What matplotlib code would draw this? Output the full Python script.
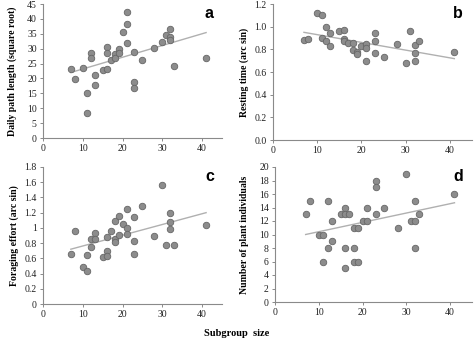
import matplotlib
matplotlib.use("Agg")
import matplotlib.pyplot as plt

# ---- data ----
a_x = [7, 8, 10, 11, 11, 12, 12, 13, 13, 15, 16, 16, 16, 17, 18, 18, 19, 19, 20, 21, 21, 21,
       23, 23, 23, 25, 28, 30, 31, 32, 32, 32, 33, 41]
a_y = [23.1, 19.7, 23.5, 15.0, 8.4, 28.7, 26.8, 21.2, 17.7, 22.8, 30.4, 28.5, 23.2, 26.2, 28.1,
       26.8, 29.8, 28.7, 35.7, 42.3, 38.4, 32.0, 29.0, 18.7, 16.7, 26.2, 30.1, 32.1, 34.6, 36.5,
       34.0, 32.9, 24.2, 26.8]
a_trend_x = [7, 41]
a_trend_y = [22.0, 35.4]

b_x = [7, 8, 10, 11, 11, 12, 12, 13, 13, 15, 16, 16, 16, 17, 18, 18, 19, 19, 20, 21, 21, 21,
       23, 23, 23, 25, 28, 30, 31, 32, 32, 32, 33, 41]
b_y = [0.885, 0.89, 1.12, 1.10, 0.90, 1.00, 0.876, 0.94, 0.83, 0.96, 0.975, 0.89, 0.875, 0.86,
       0.86, 0.795, 0.78, 0.755, 0.83, 0.845, 0.81, 0.70, 0.945, 0.876, 0.765, 0.73, 0.85, 0.675,
       0.96, 0.84, 0.77, 0.697, 0.875, 0.78]
b_trend_x = [7, 41]
b_trend_y = [0.95, 0.718]

c_x = [7, 8, 10, 11, 11, 12, 12, 13, 13, 15, 16, 16, 16, 17, 18, 18, 18, 19, 19, 20, 21, 21, 21,
       23, 23, 23, 25, 28, 30, 31, 32, 32, 32, 33, 41]
c_y = [0.66, 0.965, 0.49, 0.64, 0.435, 0.85, 0.746, 0.93, 0.85, 0.615, 0.885, 0.69, 0.637, 0.965,
       1.09, 0.86, 0.81, 1.15, 0.905, 1.05, 1.25, 1.0, 0.92, 1.14, 0.825, 0.654, 1.29, 0.89, 1.57,
       0.78, 1.19, 1.08, 0.98, 0.77, 1.035]
c_trend_x = [7, 41]
c_trend_y = [0.72, 1.2]

d_x = [7, 8, 10, 11, 11, 12, 12, 13, 13, 15, 16, 16, 16, 16, 17, 18, 18, 18, 19, 19, 20, 21, 21,
       23, 23, 23, 25, 28, 30, 31, 32, 32, 32, 33, 41]
d_y = [13, 15, 10, 10, 6, 15, 8, 12, 9, 13, 14, 13, 8, 5, 13, 11, 8, 6, 11, 6, 12, 12, 14,
       18, 17, 13, 14, 11, 19, 12, 15, 12, 8, 13, 16]
d_trend_x = [7, 41]
d_trend_y = [10.0, 14.7]

panels = [
    dict(x=a_x, y=a_y, tx=a_trend_x, ty=a_trend_y, letter="a", pad=7,
         ylabel="Daily path length (square root)", ylim=(0, 45), yticks=[0, 5, 10, 15, 20, 25, 30, 35, 40, 45],
         fmt="{:g}", rect=[43/474, 1-138/345, 179/474, 134/345]),
    dict(x=b_x, y=b_y, tx=b_trend_x, ty=b_trend_y, letter="b", pad=4,
         ylabel="Resting time (arc sin)", ylim=(0, 1.2), yticks=[0, 0.2, 0.4, 0.6, 0.8, 1.0, 1.2],
         fmt="{:.1f}", rect=[273/474, 1-140/345, 199/474, 136/345]),
    dict(x=c_x, y=c_y, tx=c_trend_x, ty=c_trend_y, letter="c", pad=4,
         ylabel="Foraging effort (arc sin)", ylim=(0, 1.8), yticks=[0, 0.2, 0.4, 0.6, 0.8, 1, 1.2, 1.4, 1.6, 1.8],
         fmt="{:g}", rect=[43/474, 1-304/345, 179/474, 137/345]),
    dict(x=d_x, y=d_y, tx=d_trend_x, ty=d_trend_y, letter="d", pad=7,
         ylabel="Number of plant individuals", ylim=(0, 20), yticks=[0, 2, 4, 6, 8, 10, 12, 14, 16, 18, 20],
         fmt="{:g}", rect=[275/474, 1-302/345, 197/474, 135/345]),
]

fig = plt.figure(figsize=(4.74, 3.45), dpi=100)
serif = "Liberation Serif"
axis_col = "#8a8a8a"

for p in panels:
    ax = fig.add_axes(p["rect"])
    ax.plot(p["tx"], p["ty"], color="#b0b0b0", lw=1.0, zorder=2)
    ax.scatter(p["x"], p["y"], s=22, c="#8c8c8c", edgecolors="#666666", linewidths=0.6, zorder=3)
    ax.set_xlim(0, 45)
    ax.set_ylim(*p["ylim"])
    ax.set_xticks([0, 10, 20, 30, 40])
    ax.set_xticklabels(["0", "10", "20", "30", "40"], fontfamily=serif, fontsize=7)
    ax.set_yticks(p["yticks"])
    ax.set_yticklabels([p["fmt"].format(v) for v in p["yticks"]], fontfamily=serif, fontsize=7)
    for s in ["top", "right"]:
        ax.spines[s].set_visible(False)
    for s in ["left", "bottom"]:
        ax.spines[s].set_color(axis_col)
        ax.spines[s].set_linewidth(0.8)
    ax.tick_params(axis="both", length=2.5, width=0.7, color=axis_col, pad=2, labelcolor="#222222")
    ax.set_ylabel(p["ylabel"], fontfamily=serif, fontsize=7, fontweight="bold", labelpad=p["pad"])
    ax.text(0.93, 0.93, p["letter"], transform=ax.transAxes, fontfamily="Liberation Sans",
            fontsize=11.5, fontweight="bold", ha="center", va="center")

fig.text(237/474, 1-333/345, "Subgroup  size", fontfamily=serif, fontsize=7.5,
         fontweight="bold", ha="center", va="center")

fig.savefig("out.png", dpi=100)
